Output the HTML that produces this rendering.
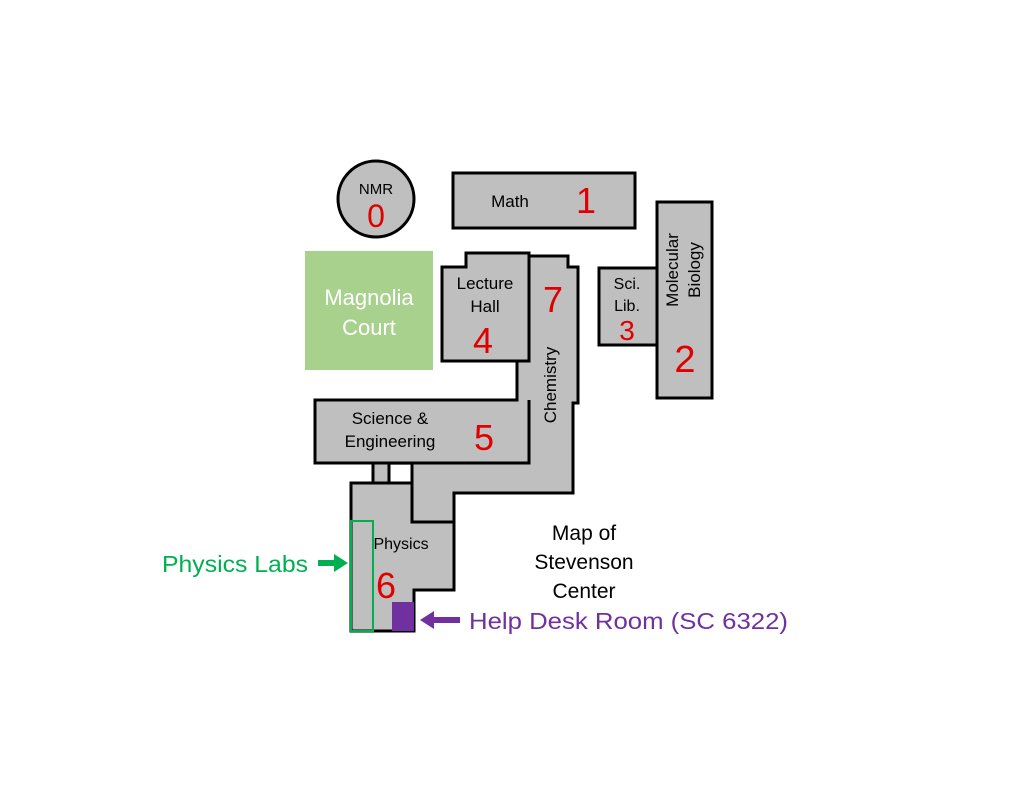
<!DOCTYPE html>
<html><head><style>html,body{margin:0;padding:0;background:#fff;}svg{display:block}</style></head>
<body>
<svg width="1024" height="791" viewBox="0 0 1024 791" xmlns="http://www.w3.org/2000/svg" font-family="Liberation Sans, Arial, sans-serif">
<rect width="1024" height="791" fill="#fff"/>
<!-- NMR -->
<circle cx="376" cy="199" r="38" fill="#bfbfbf" stroke="#000" stroke-width="3"/>
<text x="376" y="194" font-size="15" text-anchor="middle">NMR</text>
<text x="376" y="227" font-size="32" fill="#e00000" text-anchor="middle">0</text>
<!-- Math -->
<rect x="453" y="173" width="182" height="55" fill="#bfbfbf" stroke="#000" stroke-width="3"/>
<text x="510" y="207" font-size="17" text-anchor="middle">Math</text>
<text x="586" y="213" font-size="36" fill="#e00000" text-anchor="middle">1</text>
<!-- Sci Lib -->
<rect x="599" y="268" width="58" height="77" fill="#bfbfbf" stroke="#000" stroke-width="3"/>
<text x="627" y="289" font-size="16" text-anchor="middle">Sci.</text>
<text x="627" y="311" font-size="16" text-anchor="middle">Lib.</text>
<text x="627" y="340" font-size="28" fill="#e00000" text-anchor="middle">3</text>
<!-- Molecular Biology -->
<rect x="657" y="202" width="55" height="196" fill="#bfbfbf" stroke="#000" stroke-width="3"/>
<text transform="translate(678,270) rotate(-90)" font-size="17" text-anchor="middle">Molecular</text>
<text transform="translate(700,270) rotate(-90)" font-size="17" text-anchor="middle">Biology</text>
<text x="685" y="372" font-size="38" fill="#e00000" text-anchor="middle">2</text>
<!-- Magnolia -->
<rect x="305" y="251" width="128" height="119" fill="#a9d18e"/>
<text x="369" y="305" font-size="22" fill="#fff" text-anchor="middle">Magnolia</text>
<text x="369" y="335" font-size="22" fill="#fff" text-anchor="middle">Court</text>
<!-- complex -->
<path d="M442,267 L466,267 L466,253 L529,253 L529,256 L568,256 L568,267 L578,267 L578,403 L573,403 L573,493 L454,493 L454,590 L414,590 L414,631 L351,631 L351,483 L373,483 L373,463 L315,463 L315,400 L517,400 L517,361 L442,361 Z" fill="#bfbfbf" stroke="#000" stroke-width="3" stroke-linejoin="miter"/>
<rect x="389" y="465" width="23" height="18" fill="#fff"/>
<path d="M389,463 L389,483 M412,463 L412,522 L454,522 M351,483 L412,483 M529,253 L529,361 L442,361 M315,463 L529,463 L529,400" fill="none" stroke="#000" stroke-width="3"/>
<text x="485" y="289" font-size="17" text-anchor="middle">Lecture</text>
<text x="485" y="312" font-size="17" text-anchor="middle">Hall</text>
<text x="483" y="353" font-size="36" fill="#e00000" text-anchor="middle">4</text>
<text x="553" y="312" font-size="36" fill="#e00000" text-anchor="middle">7</text>
<text transform="translate(556,385) rotate(-90)" font-size="17" text-anchor="middle">Chemistry</text>
<text x="390" y="424" font-size="17" text-anchor="middle">Science &amp;</text>
<text x="390" y="447" font-size="17" text-anchor="middle">Engineering</text>
<text x="484" y="450" font-size="36" fill="#e00000" text-anchor="middle">5</text>
<text x="401" y="549" font-size="16" text-anchor="middle">Physics</text>
<text x="386" y="598" font-size="36" fill="#e00000" text-anchor="middle">6</text>
<rect x="392" y="602" width="22" height="29" fill="#7030a0"/>
<rect x="351" y="521" width="22" height="110" fill="none" stroke="#00b050" stroke-width="2"/>
<!-- labels -->
<text x="162" y="572" font-size="23" fill="#00b050" textLength="146" lengthAdjust="spacingAndGlyphs">Physics Labs</text>
<path d="M318,563 L336,563" stroke="#00b050" stroke-width="6"/>
<polygon points="334,554 348,563 334,572" fill="#00b050"/>
<polygon points="420,620 434,611 434,629" fill="#7030a0"/>
<path d="M432,620 L460,620" stroke="#7030a0" stroke-width="6"/>
<text x="469" y="629" font-size="23" fill="#7030a0" textLength="319" lengthAdjust="spacingAndGlyphs">Help Desk Room (SC 6322)</text>
<text x="584" y="540" font-size="21" text-anchor="middle">Map of</text>
<text x="584" y="569" font-size="21" text-anchor="middle">Stevenson</text>
<text x="584" y="598" font-size="21" text-anchor="middle">Center</text>
</svg>
</body></html>
